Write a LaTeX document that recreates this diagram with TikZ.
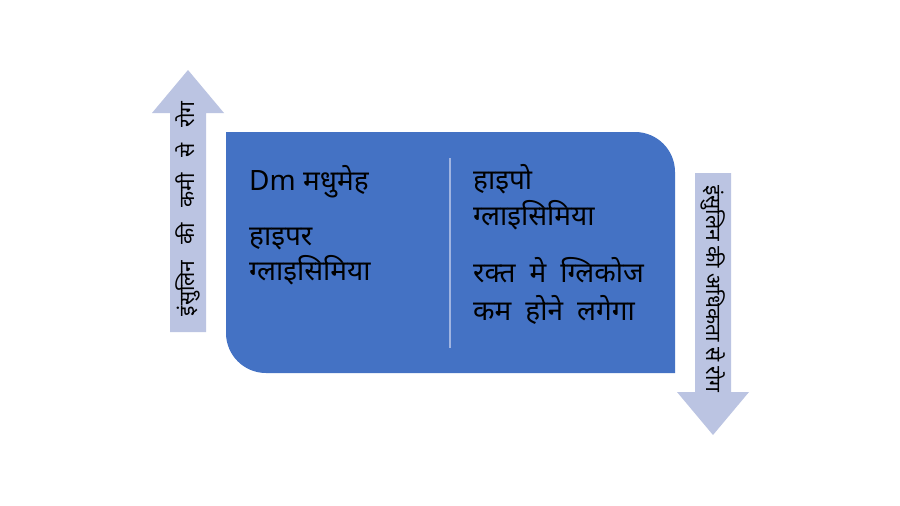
\documentclass[tikz,border=0pt]{standalone}
\usepackage{fontspec}
\setmainfont[Script=Devanagari]{Noto Sans}
\begin{document}
\begin{tikzpicture}[x=1pt,y=-1pt,
  boxtext/.style={anchor=base west,inner sep=0pt,font=\fontsize{28}{33}\selectfont,text=black},
  arrowtext/.style={inner sep=0pt,font=\fontsize{21}{25}\selectfont,text=black},
  lightarrow/.style={fill=arrowblue,draw=none}]
\definecolor{boxblue}{RGB}{68,114,196}
\definecolor{arrowblue}{RGB}{187,196,226}
\definecolor{divider}{RGB}{160,180,225}
\useasboundingbox[fill=white] (0,0) rectangle (900,506);
% main box
\fill[boxblue] (226,132) -- (635,132) arc (270:360:40) -- (675,373) -- (266,373) arc (90:180:40) -- cycle;
\draw[divider,line width=1.2pt] (450,158) -- (450,348);
% left arrow (up)
\fill[lightarrow] (170,332) -- (170,113) -- (152,113) -- (188,70) -- (224,113) -- (206,113) -- (206,332) -- cycle;
\node[arrowtext,rotate=90] (lt) at (188,209) {इंसुलिन\hspace{0.75em}की\hspace{0.75em}कमी\hspace{0.75em}से\hspace{0.75em}रोग};
% right arrow (down)
\fill[lightarrow] (695,173) -- (695,392) -- (677,392) -- (713,435) -- (749,392) -- (731,392) -- (731,173) -- cycle;
\node[arrowtext,rotate=-90] (rt) at (713,289) {इंसुलिन की अधिकता से रोग};
% texts left
\node[boxtext] (a1) at (249,190) {Dm मधुमेह};
\node[boxtext] (a2) at (249,245) {हाइपर};
\node[boxtext] (a3) at (249,280) {ग्लाइसिमिया};
% texts right
\node[boxtext] (b1) at (473,189) {हाइपो};
\node[boxtext] (b2) at (473,225) {ग्लाइसिमिया};
\node[boxtext] (b3) at (473,282) {रक्त\hspace{0.5em}मे\hspace{0.5em}ग्लिकोज};
\node[boxtext] (b4) at (473,320) {कम\hspace{0.5em}होने\hspace{0.5em}लगेगा};
\end{tikzpicture}
\end{document}
